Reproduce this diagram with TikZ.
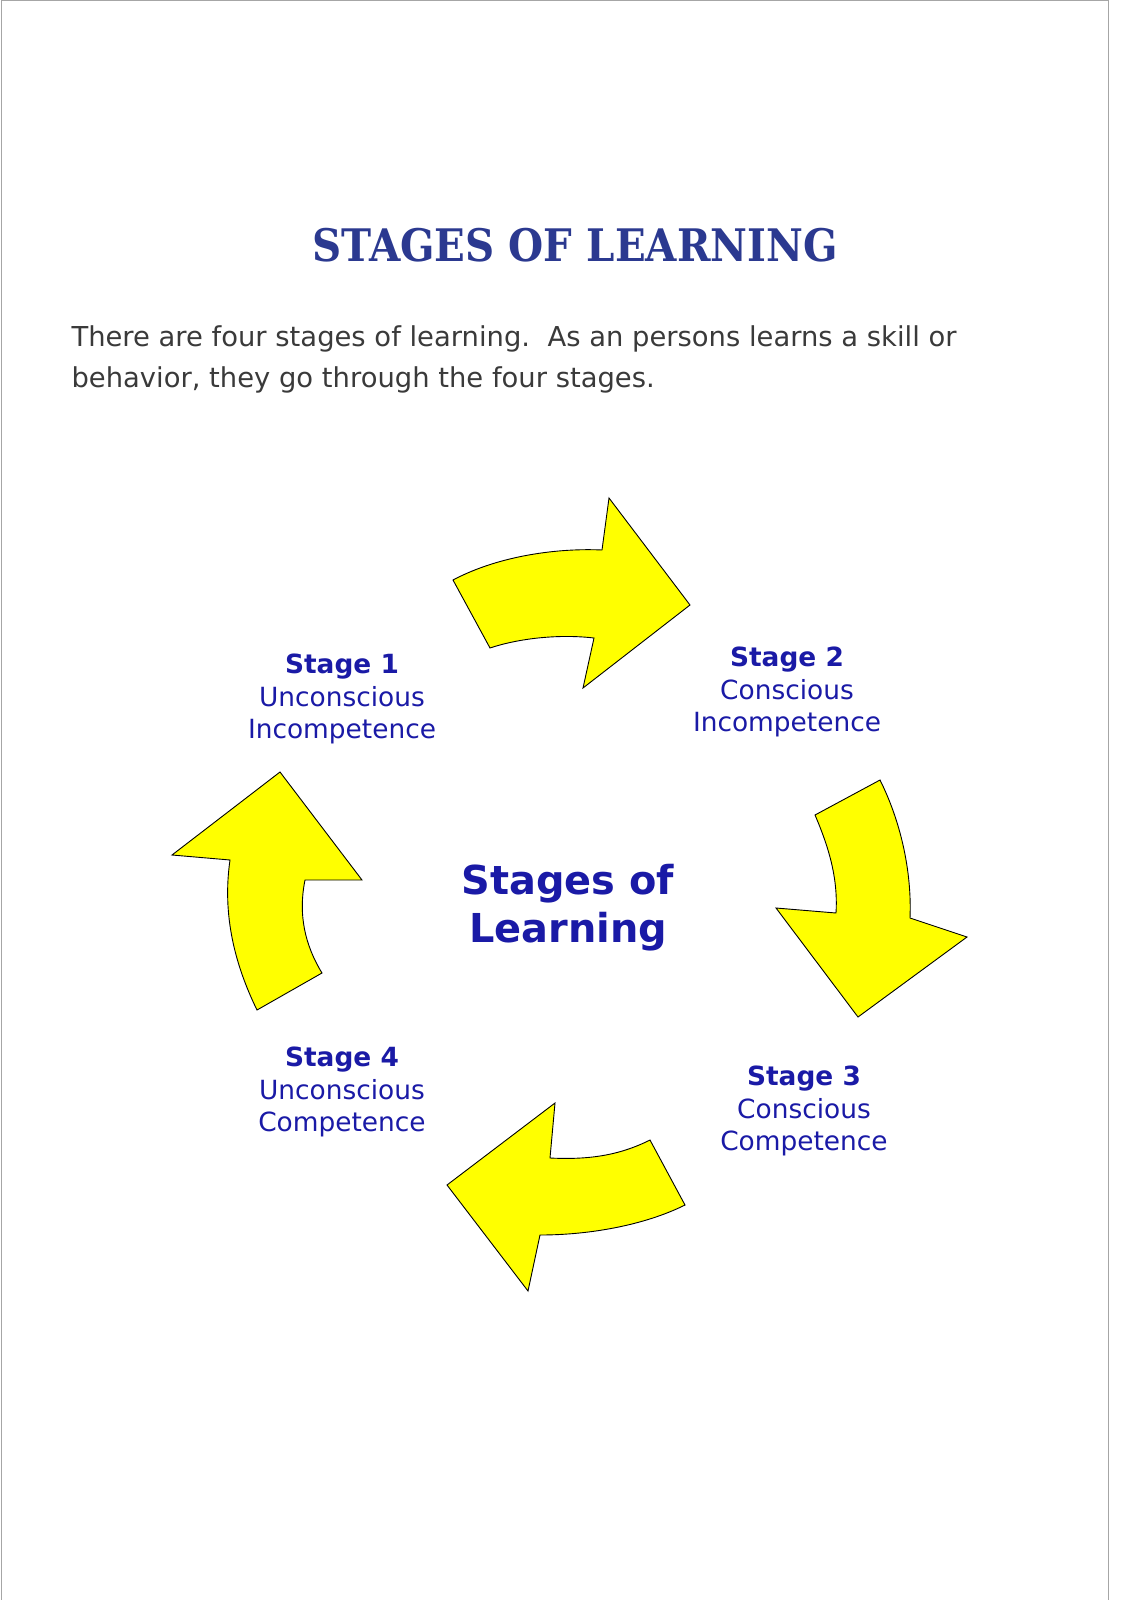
\documentclass[tikz,border=0pt]{standalone}
\usepackage{fontspec}
\setmainfont{DejaVu Sans}
\newfontfamily\titlefont{DejaVu Serif Condensed}
\definecolor{ttl}{HTML}{2B3990}
\definecolor{stg}{HTML}{1A1AA6}
\definecolor{para}{HTML}{3A3A3A}
\definecolor{yel}{HTML}{FFFF00}
\begin{document}
\begin{tikzpicture}[x=1bp,y=-1bp,
  arrowbody/.style={fill=yel,draw=black,line width=0.9pt,line join=miter},
  stagelbl/.style={align=center,text=stg,font=\fontsize{26.5}{32.5}\selectfont},
]
\useasboundingbox (0,0) rectangle (1131,1600);
\draw[gray!70,line width=1pt] (1,1600) -- (1,1) -- (1108,1) -- (1108,1600);
\node[text=ttl,font=\titlefont\bfseries\fontsize{45}{50}\selectfont] (title) at (575,245) {STAGES OF LEARNING};
\node[anchor=north west,text=para,align=left,font=\fontsize{27.5}{41}\selectfont] (para) at (68,322)
 {There are four stages of learning.\ \ As an persons learns a skill or\\behavior, they go through the four stages.};
\node[stagelbl] (s1) at (342,699) {\textbf{Stage 1}\\Unconscious\\Incompetence};
\node[stagelbl] (s2) at (787,692) {\textbf{Stage 2}\\Conscious\\Incompetence};
\node[stagelbl] (s3) at (804,1111) {\textbf{Stage 3}\\Conscious\\Competence};
\node[stagelbl] (s4) at (342,1092) {\textbf{Stage 4}\\Unconscious\\Competence};
\node[align=center,text=stg,font=\bfseries\fontsize{40}{48}\selectfont] (ctr) at (568,908) {Stages of\\Learning};
% top arrow
\draw[arrowbody] (453,580) .. controls (500,555) and (560,548) .. (602,550) -- (609,498) -- (690,605) -- (583,688) -- (594,638) .. controls (560,634) and (520,638) .. (490,648) -- cycle;
% right arrow
\draw[arrowbody] (815,815) .. controls (830,850) and (838,880) .. (836,913) -- (776,908) -- (858,1017) -- (967,937) -- (910,918) .. controls (912,870) and (900,820) .. (880,780) -- cycle;
% bottom arrow
\draw[arrowbody] (650,1140) .. controls (620,1155) and (590,1160) .. (550,1158) -- (555,1103) -- (447,1185) -- (528,1291) -- (540,1235) .. controls (590,1235) and (645,1225) .. (685,1205) -- cycle;
% left arrow
\draw[arrowbody] (322,973) .. controls (305,945) and (298,915) .. (305,880) -- (362,880) -- (280,772) -- (172,855) -- (230,860) .. controls (222,915) and (235,965) .. (257,1010) -- cycle;
\end{tikzpicture}
\end{document}
